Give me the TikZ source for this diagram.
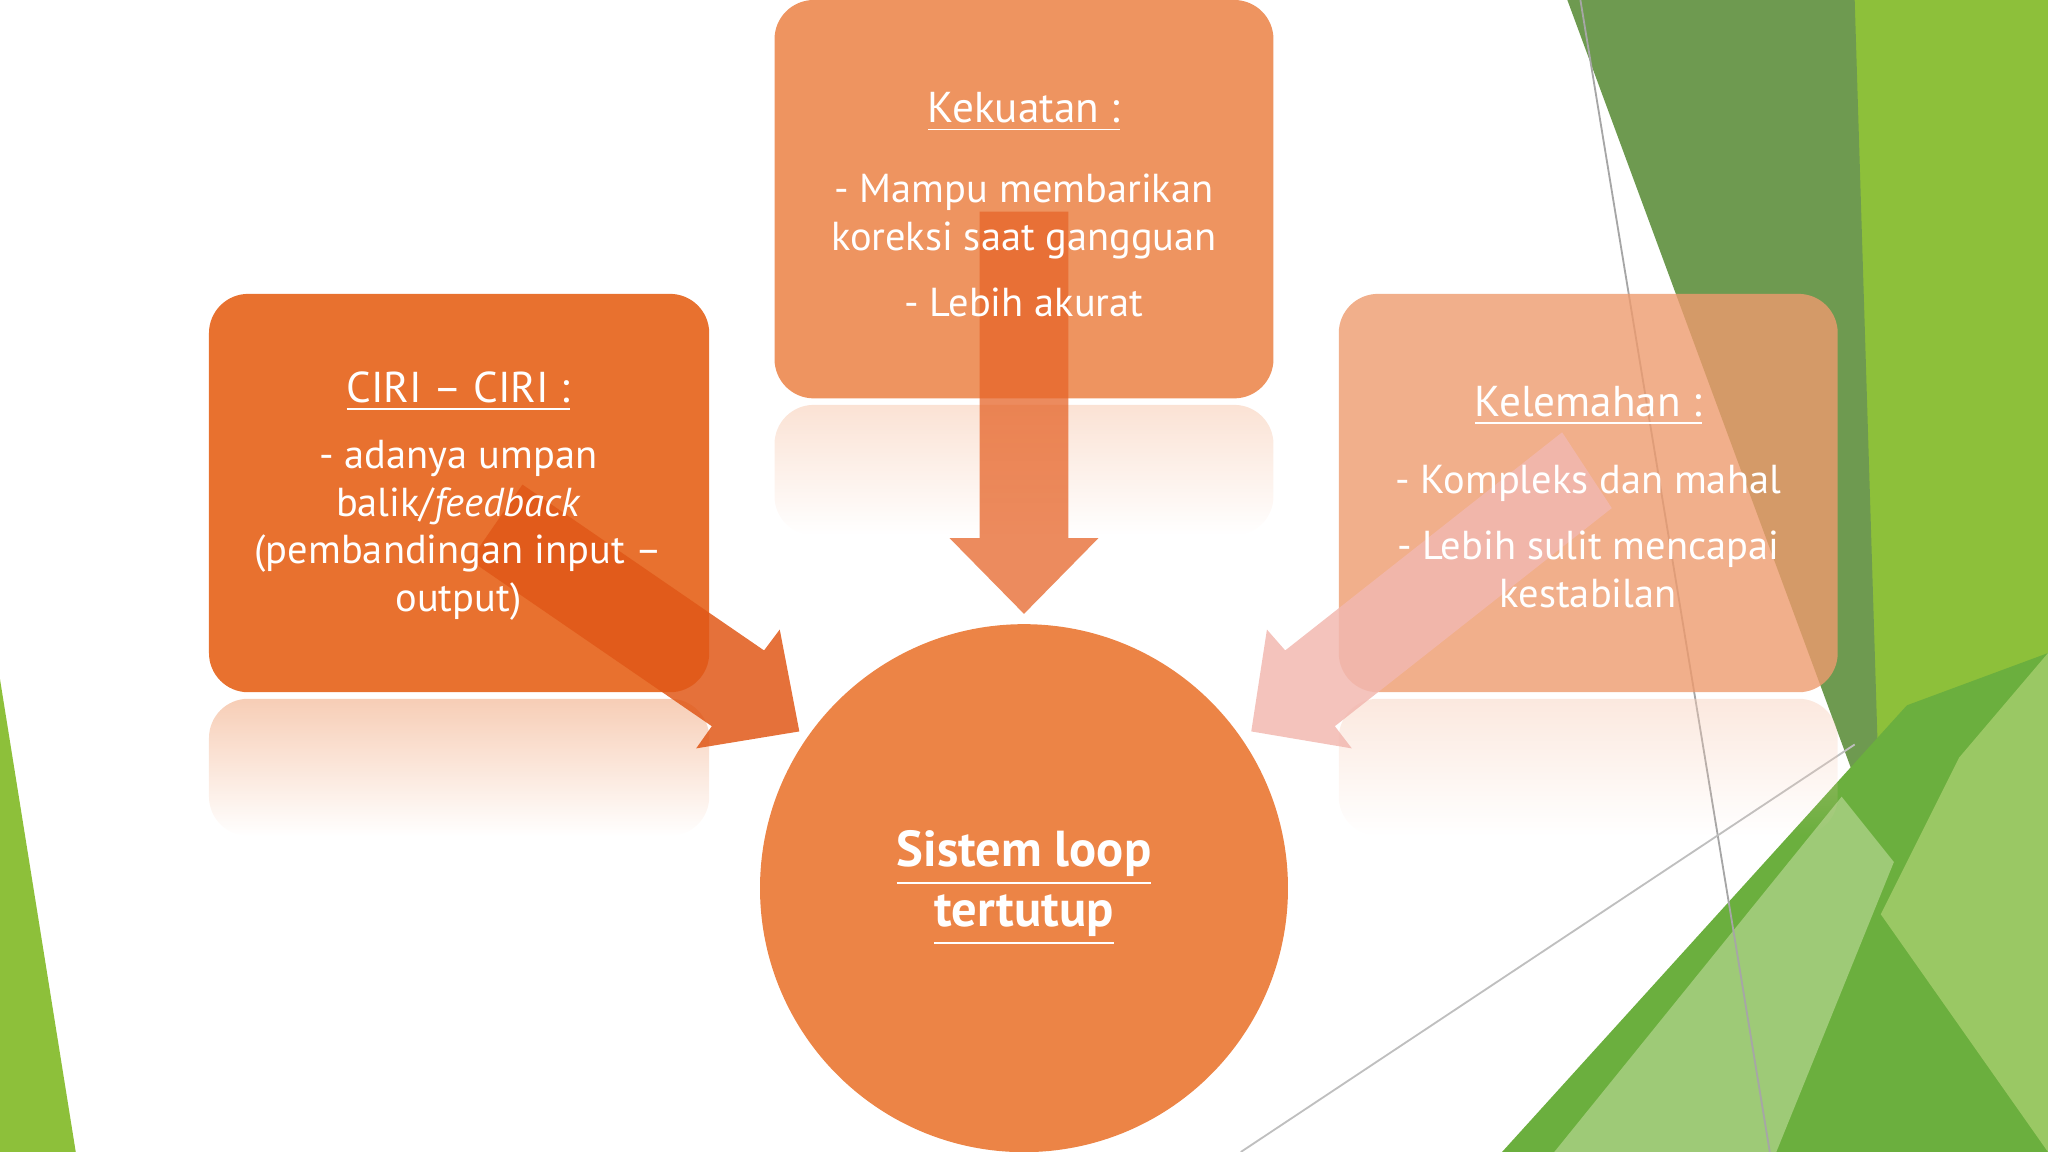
\documentclass[tikz,border=0pt]{standalone}
\usepackage{fontspec}
\setmainfont{PT Sans}
\usetikzlibrary{fadings}
\definecolor{dg}{HTML}{6E9A50}\definecolor{bg}{HTML}{8DC03A}\definecolor{mg}{HTML}{6BAF3E}
\definecolor{b1c}{RGB}{232,113,47}\definecolor{b2c}{RGB}{238,148,96}\definecolor{b3c}{RGB}{238,155,110}
\definecolor{cc}{RGB}{236,132,70}\definecolor{a1}{RGB}{230,100,40}\definecolor{a2}{RGB}{224,88,24}\definecolor{a3}{RGB}{242,184,176}
\begin{document}
\begin{tikzpicture}[x=0.01cm,y=-0.01cm,
  box/.style={rounded corners=0.3cm},
  txt/.style={text=white,align=center,font=\fontsize{8.8}{10.4}\selectfont},
  ttl/.style={text=white,font=\fontsize{9.4}{11}\selectfont}]
\useasboundingbox (0,0) rectangle (1568,882);
% green decorations
\fill[bg] (1410,0) -- (1568,0) -- (1568,882) -- (1440,650) -- cycle;
\fill[dg] (1200,0) -- (1420,0) -- (1440,650) -- cycle;
\fill[mg] (1150,882) -- (1460,540) -- (1568,500) -- (1568,882) -- cycle;
\fill[bg!70!white,opacity=0.7] (1500,580) -- (1568,500) -- (1568,882) -- (1440,700) -- cycle;
\fill[bg!40!white,opacity=0.5] (1190,882) -- (1410,610) -- (1450,660) -- (1360,882) -- cycle;
\fill[bg] (0,520) -- (58,882) -- (0,882) -- cycle;
\draw[gray!70,line width=0.4pt] (1210,0) -- (1355,882);
\draw[gray!50,line width=0.4pt] (950,882) -- (1420,570);
% reflections
\fill[box,b1c!70!white,opacity=0.5,path fading=south] (160,535) rectangle (543,640);
\fill[box,b2c!60!white,opacity=0.45,path fading=south] (593,310) rectangle (975,410);
\fill[box,b3c!50!white,opacity=0.45,path fading=south] (1025,535) rectangle (1407,640);
% boxes
\fill[box,b1c] (160,225) rectangle (543,530);
\fill[box,b2c] (593,0) rectangle (975,305);
\fill[box,b3c,opacity=0.8] (1025,225) rectangle (1407,530);
% circle
\node[circle,minimum size=4.04cm,fill=cc,inner sep=0] (c) at (784,680) {};
% arrows
\fill[a1,opacity=0.75] (750,162) -- (818,162) -- (818,412) -- (841,412) -- (784,470) -- (727,412) -- (750,412) -- cycle;
\fill[a2,opacity=0.85] (400,371) -- (585,498) -- (597,482) -- (612,560) -- (533,573) -- (545,556) -- (360,429) -- cycle;
\fill[a3,opacity=0.85] (958,560) -- (970,482) -- (984,498) -- (1196,331) -- (1234,389) -- (1022,556) -- (1035,573) -- cycle;
% texts
\node[ttl] (t1) at (351,300) {\underline{CIRI – CIRI :}};
\node[txt] (b1) at (351,406) {- adanya umpan\\balik/\textit{feedback}\\(pembandingan input –\\output)};
\node[ttl] (t2) at (784,86) {\underline{Kekuatan :}};
\node[txt] (b2) at (784,188) {- Mampu membarikan\\koreksi saat gangguan\\[4pt]- Lebih akurat};
\node[ttl] (t3) at (1216,311) {\underline{Kelemahan :}};
\node[txt] (b3) at (1216,411) {- Kompleks dan mahal\\[4pt]- Lebih sulit mencapai\\kestabilan};
\node[text=white,align=center,font=\bfseries\fontsize{11}{13.2}\selectfont] at (c) {\underline{Sistem loop}\\\underline{tertutup}};
\end{tikzpicture}
\end{document}
